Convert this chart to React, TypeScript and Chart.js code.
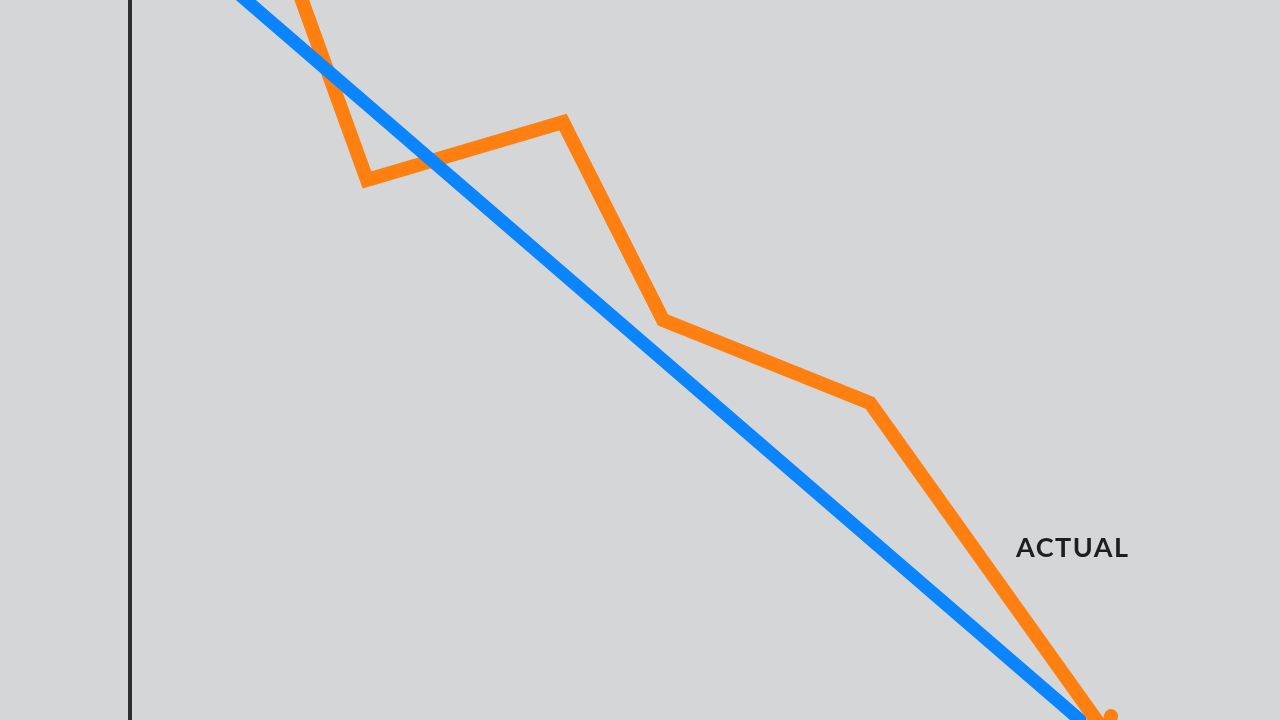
import React, { useEffect, useRef } from "react";
import { Chart, registerables } from "chart.js";

Chart.register(...registerables);

// Sprint days (x) and remaining work (y)
const idealDays = [0, 9.5];
const idealRemaining = [82, 0];
const actualDays = [1.5, 2.37, 4.33, 5.33, 7.4, 9.77, 9.81];
const actualRemaining = [78, 54, 59.8, 40, 31.7, -1.5, 0.4];
const axisDay = 0;
const actualLabel = "ACTUAL";

const BG = "#d4d6d8";
const BLUE = "#0a84ff";
const ORANGE = "#ff7f10";

export default function App() {
  const canvasRef = useRef<HTMLCanvasElement | null>(null);

  useEffect(() => {
    const ctx = canvasRef.current!.getContext("2d")!;
    const chart = new Chart(ctx, {
      type: "line",
      data: {
        datasets: [
          {
            label: "Ideal",
            data: idealDays.map((d, i) => ({ x: d, y: idealRemaining[i] })),
            borderColor: BLUE,
            borderWidth: 13,
            pointRadius: 0,
            borderCapStyle: "round",
            borderJoinStyle: "round",
            clip: false as any,
            tension: 0,
          },
          {
            label: "Actual",
            data: actualDays.map((d, i) => ({ x: d, y: actualRemaining[i] })),
            borderColor: ORANGE,
            borderWidth: 14,
            pointRadius: 0,
            borderCapStyle: "round",
            borderJoinStyle: "miter",
            clip: false as any,
            tension: 0,
          },
        ],
      },
      options: {
        animation: false,
        responsive: false,
        maintainAspectRatio: false,
        layout: { padding: 0 },
        plugins: { legend: { display: false }, tooltip: { enabled: false } },
        scales: {
          x: {
            type: "linear",
            min: -1.3,
            max: 11.5,
            display: true,
            ticks: { display: false, stepSize: 1 },
            border: { display: false },
            grid: {
              drawTicks: false,
              lineWidth: 4,
              color: (c: any) => (c.tick && c.tick.value === axisDay ? "#2e2e2e" : "rgba(0,0,0,0)"),
            },
          },
          y: {
            type: "linear",
            min: 0,
            max: 72,
            display: false,
          },
        },
      },
    });
    return () => chart.destroy();
  }, []);

  return (
    <div style={{ position: "fixed", left: 0, top: 0, width: 1280, height: 720, background: BG, overflow: "hidden" }}>
      <canvas ref={canvasRef} width={1280} height={720} style={{ display: "block", width: 1280, height: 720 }} />
      <div
        style={{
          position: "absolute",
          left: 1016,
          top: 530,
          fontFamily: "Lato, 'Open Sans', sans-serif",
          fontWeight: 700,
          fontSize: 27,
          letterSpacing: 1.5,
          color: "#1e1e1e",
          lineHeight: "34px",
        }}
      >
        {actualLabel}
      </div>
    </div>
  );
}
